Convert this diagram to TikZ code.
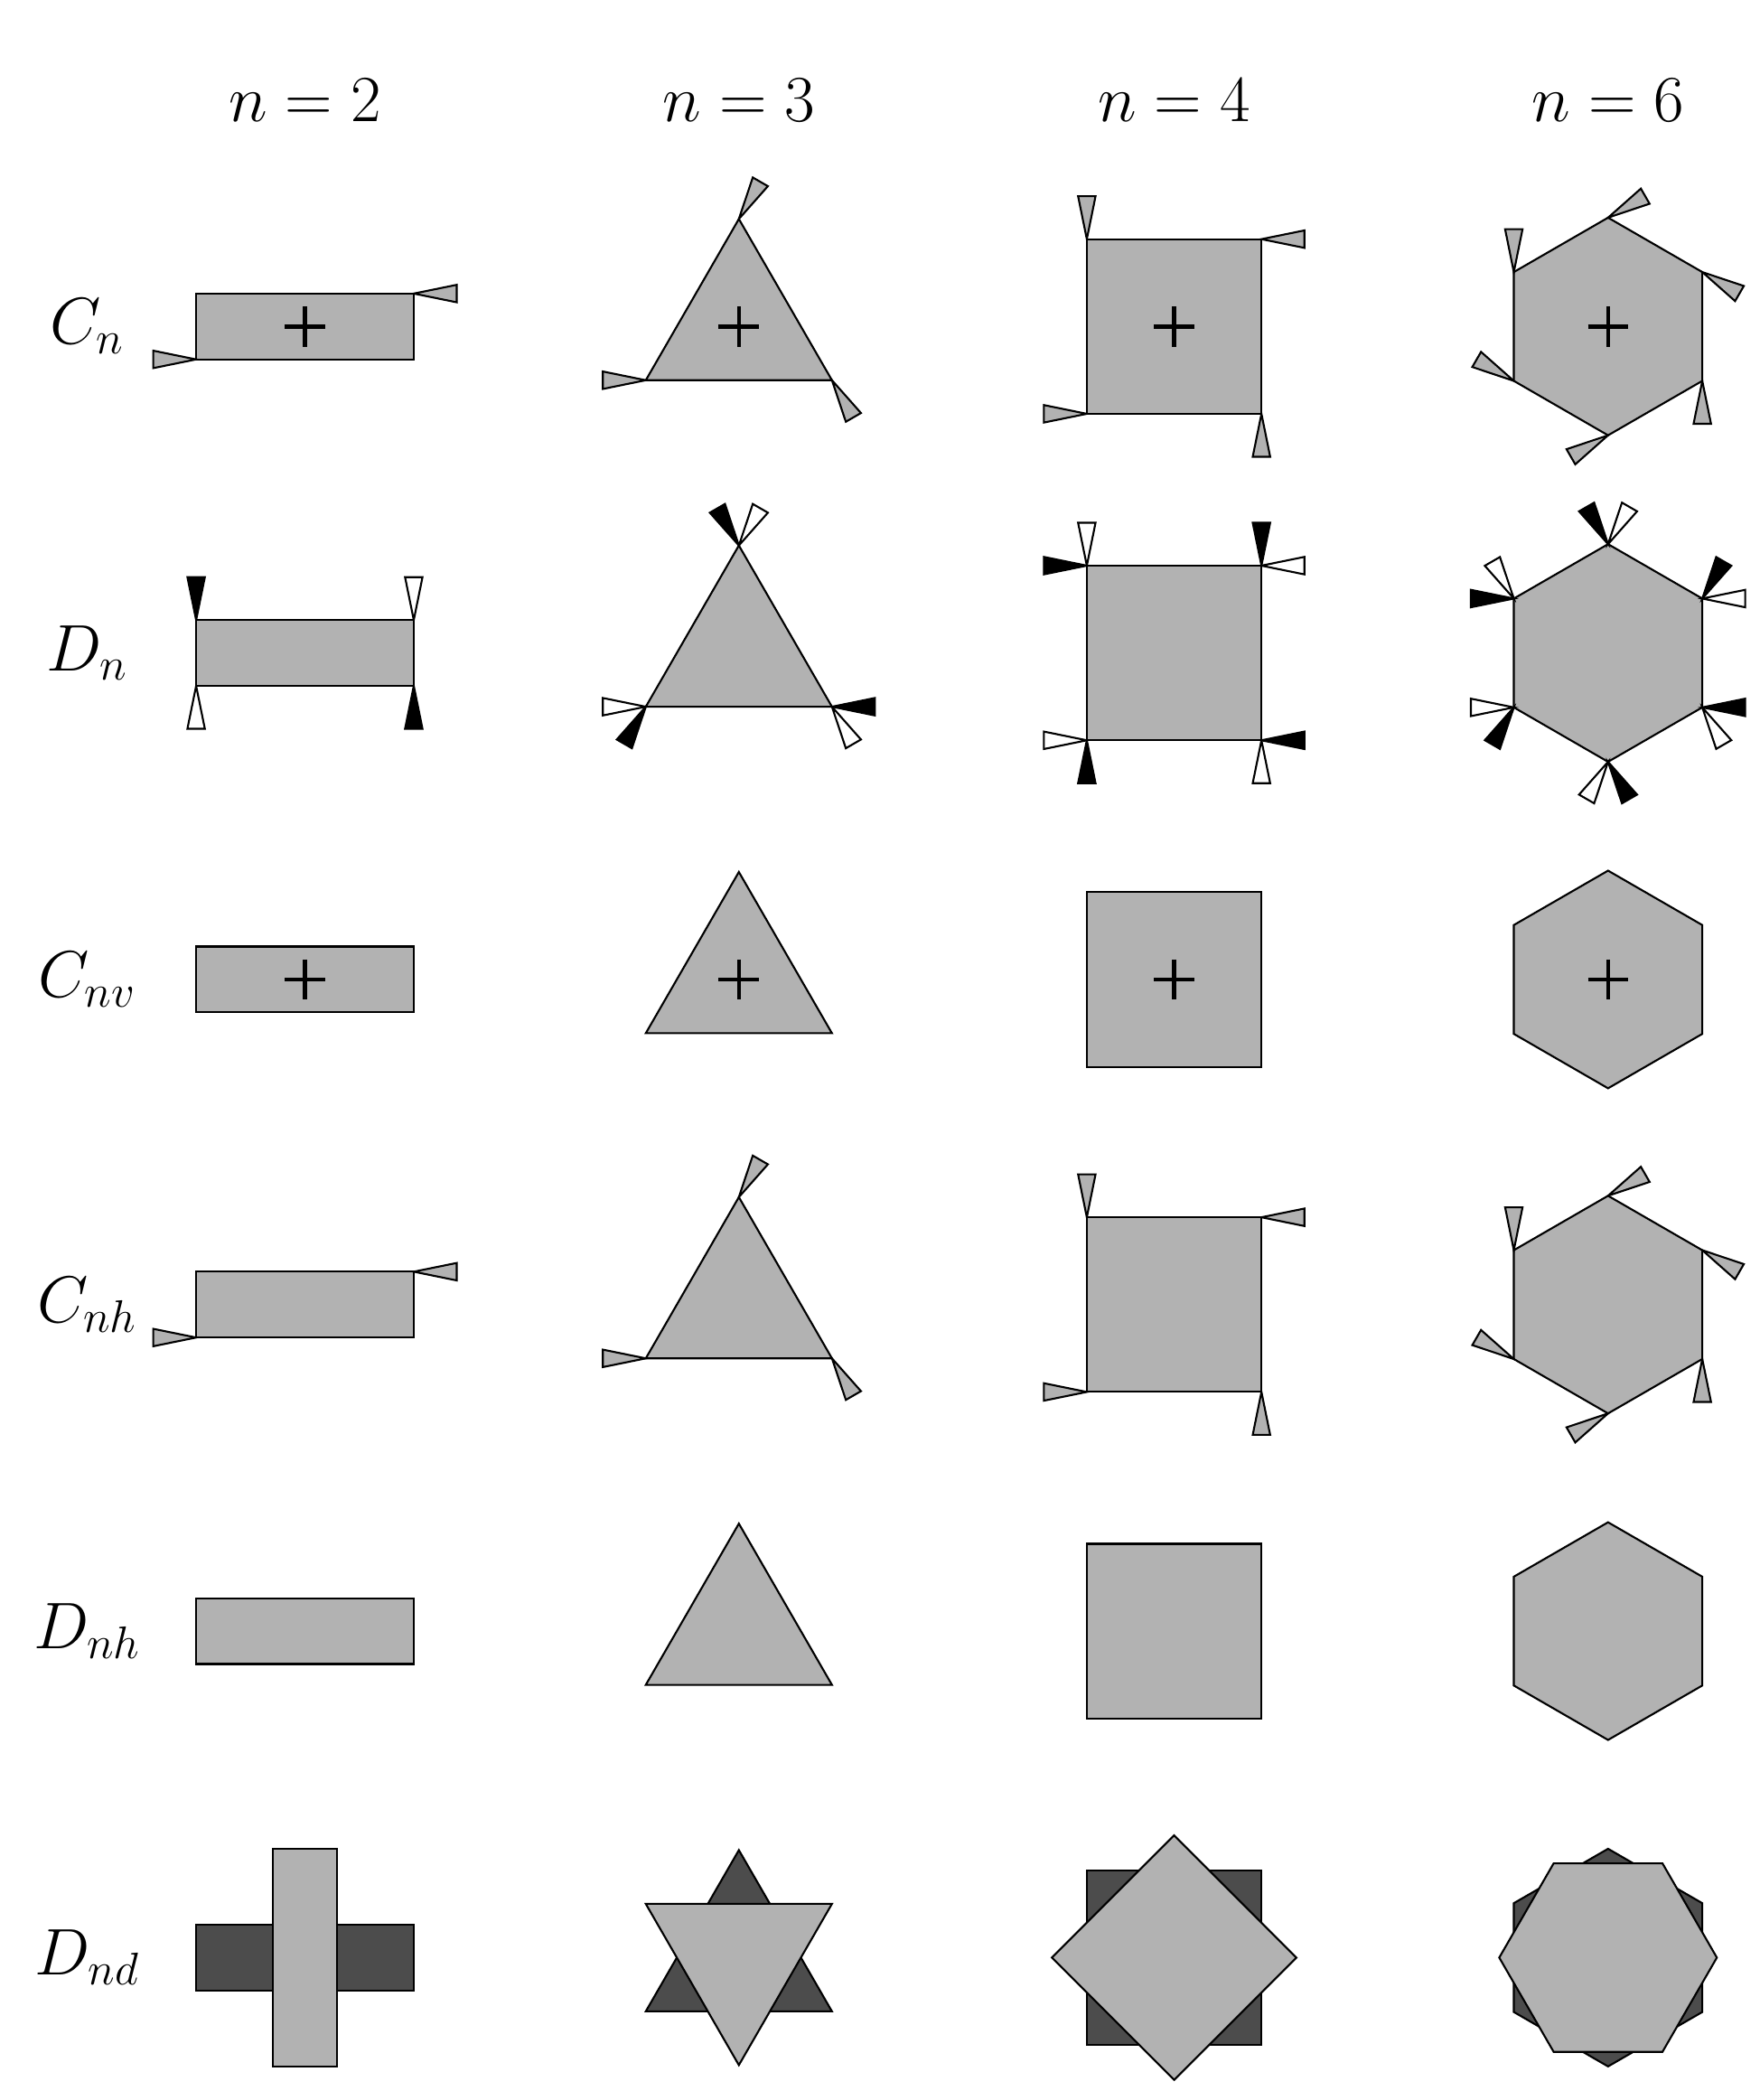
\documentclass[tikz,border=0pt]{standalone}
\usetikzlibrary{calc}
\begin{document}
\begin{tikzpicture}[x=0.1487mm,y=-0.1487mm,line width=0.6pt,line join=miter]
\useasboundingbox (0,0) rectangle (1310,1563);
\definecolor{lg}{gray}{0.7}
\definecolor{dg}{gray}{0.3}
\tikzset{shp/.style={draw=black,fill=lg},dshp/.style={draw=black,fill=dg},lab/.style={font=\fontsize{21}{24}\selectfont}}
\newcommand\flagg[3]{\draw[fill=#3] #1 -- +(#2+11.5:32.6) -- +(#2-11.5:32.6) -- cycle;}
\newcommand\polyg[6]{\draw[#6] ($(#1,#2)+(#5:#4)$) \foreach \k in {1,...,#3}{ -- ($(#1,#2)+(#5+\k*360/#3:#4)$)} -- cycle;}
\newcommand\pluss[2]{\draw[line width=1.3pt] (#1-15,#2) -- (#1+15,#2) (#1,#2-15) -- (#1,#2+15);}
% headers
\foreach \x/\n in {227/2,550/3,874/4,1197/6} \node[lab] (h\n) at (\x,75) {$n=\n$};
\foreach \y/\t/\nm in {243/C_n/a,486/D_n/b,729/C_{nv}/c,971/C_{nh}/d,1214/D_{nh}/e,1457/D_{nd}/f}
  \node[lab] (r\nm) at (65,\y) {$\t$};
% shapes rows 1-5
\foreach \y/\mode in {243/1,486/2,729/3,971/4,1214/5}{
  \draw[shp] (146,\y-24.5) rectangle (308,\y+24.5);
  \polyg{550}{\y}{3}{80}{-90}{shp}
  \draw[shp] (809,\y-65) rectangle (939,\y+65);
  \polyg{1197}{\y}{6}{81}{-90}{shp}
  \ifnum\mode=1 \pluss{227}{\y}\pluss{550}{\y}\pluss{874}{\y}\pluss{1197}{\y}\fi
  \ifnum\mode=3 \pluss{227}{\y}\pluss{550}{\y}\pluss{874}{\y}\pluss{1197}{\y}\fi
  \ifnum\mode=1 \def\doC{1}\else\ifnum\mode=4 \def\doC{1}\else\def\doC{0}\fi\fi
  \if1\doC
    \flagg{(308,\y-24.5)}{0}{lg}\flagg{(146,\y+24.5)}{180}{lg}
    \foreach \n/\R/\cx in {3/80/550,4/91.92/874,6/81/1197}{
      \pgfmathsetmacro\st{\n==4 ? -135 : -90}
      \foreach \k in {1,...,\n}{
        \pgfmathsetmacro\ph{\st+\k*360/\n}
        \flagg{($(\cx,\y)+(\ph:\R)$)}{\ph+90-180/\n}{lg}}}
  \fi
  \ifnum\mode=2
    \flagg{(146,\y-24.5)}{-90}{black}\flagg{(308,\y-24.5)}{-90}{white}
    \flagg{(146,\y+24.5)}{90}{white}\flagg{(308,\y+24.5)}{90}{black}
    \foreach \n/\R/\cx/\off in {3/80/550/30,4/91.92/874/45,6/81/1197/30}{
      \pgfmathsetmacro\st{\n==4 ? -135 : -90}
      \foreach \k in {1,...,\n}{
        \pgfmathsetmacro\ph{\st+\k*360/\n}
        \flagg{($(\cx,\y)+(\ph:\R)$)}{\ph+\off}{white}
        \flagg{($(\cx,\y)+(\ph:\R)$)}{\ph-\off}{black}}}
  \fi
}
% D_nd
\draw[dshp] (146,1432.5) rectangle (308,1481.5);
\draw[shp] (203,1376) rectangle (251,1538);
\polyg{550}{1457}{3}{80}{-90}{dshp}
\polyg{550}{1457}{3}{80}{90}{shp}
\draw[dshp] (809,1392) rectangle (939,1522);
\polyg{874}{1457}{4}{91}{-90}{shp}
\polyg{1197}{1457}{6}{81}{-90}{dshp}
\polyg{1197}{1457}{6}{81}{0}{shp}
\end{tikzpicture}
\end{document}
